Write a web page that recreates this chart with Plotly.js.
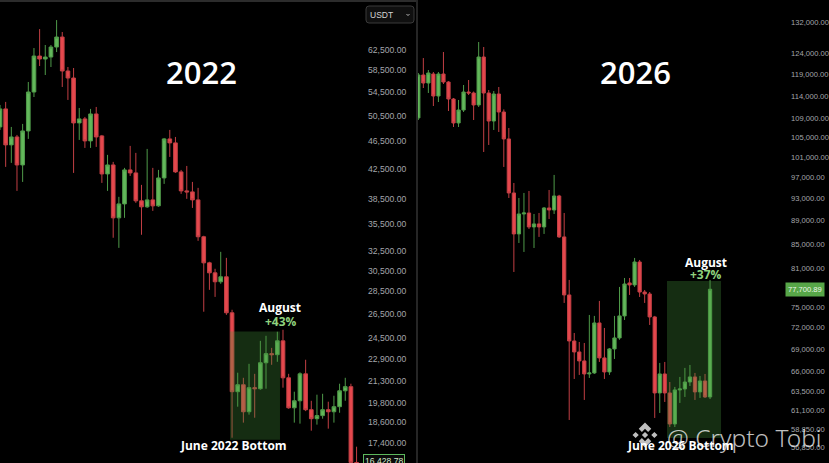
<!DOCTYPE html>
<html><head><meta charset="utf-8">
<script src="https://cdn.plot.ly/plotly-3.0.1.min.js"></script>
<style>html,body{margin:0;padding:0;background:#000;overflow:hidden}#chart{width:829px;height:463px}</style>
</head><body><div id="chart"></div>
<script>
// ---------- DATA: 2022 weekly candles ----------
const dates2022 = ['2021-08-30','2021-09-06','2021-09-13','2021-09-20','2021-09-27','2021-10-04','2021-10-11','2021-10-18','2021-10-25','2021-11-01','2021-11-08','2021-11-15','2021-11-22','2021-11-29','2021-12-06','2021-12-13','2021-12-20','2021-12-27','2022-01-03','2022-01-10','2022-01-17','2022-01-24','2022-01-31','2022-02-07','2022-02-14','2022-02-21','2022-02-28','2022-03-07','2022-03-14','2022-03-21','2022-03-28','2022-04-04','2022-04-11','2022-04-18','2022-04-25','2022-05-02','2022-05-09','2022-05-16','2022-05-23','2022-05-30','2022-06-06','2022-06-13','2022-06-20','2022-06-27','2022-07-04','2022-07-11','2022-07-18','2022-07-25','2022-08-01','2022-08-08','2022-08-15','2022-08-22','2022-08-29','2022-09-05','2022-09-12','2022-09-19','2022-09-26','2022-10-03','2022-10-10','2022-10-17','2022-10-24','2022-10-31','2022-11-07','2022-11-14'];
const open2022  = [48660,51600,45900,47100,43000,48030,54520,61290,60700,61090,63110,65200,58380,57060,49300,49950,46500,50760,47260,41760,43000,36200,37880,42310,41900,38260,37520,38380,37640,41220,46800,46200,42040,39520,39390,38380,34040,31270,30270,29400,29880,26580,20560,21030,19260,20830,20760,22590,23270,23190,24260,21510,19510,19960,21790,19390,18830,19020,19390,19260,19580,20620,20900,16330];
const high2022  = [52270,52790,48660,47410,49140,56330,62910,66910,63530,63530,68900,66270,59140,58950,51760,50270,51600,51930,47410,44430,43430,38760,42590,45750,44720,40300,45300,42590,42310,46950,48190,47100,42310,42860,40690,39910,34150,31380,30670,32410,31780,26840,21870,21510,22510,21790,24260,24660,23710,24990,25150,21790,20560,21900,22810,19960,20360,20420,19900,20290,21100,21510,21100,17190];
const low2022   = [48190,42730,43290,39520,40690,46800,53640,59330,57620,59140,62090,55420,53130,41900,46650,45450,45450,45600,40560,39520,33930,32830,36200,41490,38010,34260,37390,37030,37520,40430,44140,41900,39140,38510,37390,33590,26670,28640,27990,29210,26400,17700,19580,18590,19080,18890,20690,20760,22440,22660,20830,19450,18590,18530,19300,18110,18470,18830,18230,18590,19200,19960,15590,15800];
const close2022 = [51600,45900,47100,43000,48030,54520,61290,60700,61090,63110,65200,58380,57060,49300,49950,46500,50760,47100,41760,43000,36200,37880,42310,41900,38260,37520,38380,37640,41220,46800,46200,42040,39520,39390,38380,34040,31270,30270,29400,29880,26580,20560,21030,19260,20830,20760,22590,23270,23190,24260,21510,19510,19960,21790,19390,18830,19020,19390,19260,19580,20620,20900,16330,16290];
const ticks2022 = [62500,58500,54500,50500,46500,42500,38500,35500,32500,30500,28500,26500,24500,22900,21300,19800,18600,17400];
const lastPrice2022 = 16428.78;

// ---------- DATA: 2026 weekly candles ----------
const dates2026 = ['2025-07-07','2025-07-14','2025-07-21','2025-07-28','2025-08-04','2025-08-11','2025-08-18','2025-08-25','2025-09-01','2025-09-08','2025-09-15','2025-09-22','2025-09-29','2025-10-06','2025-10-13','2025-10-20','2025-10-27','2025-11-03','2025-11-10','2025-11-17','2025-11-24','2025-12-01','2025-12-08','2025-12-15','2025-12-22','2025-12-29','2026-01-05','2026-01-12','2026-01-19','2026-01-26','2026-02-02','2026-02-09','2026-02-16','2026-02-23','2026-03-02','2026-03-09','2026-03-16','2026-03-23','2026-03-30','2026-04-06','2026-04-13','2026-04-20','2026-04-27','2026-05-04','2026-05-11','2026-05-18','2026-05-25','2026-06-01','2026-06-08','2026-06-15','2026-06-22','2026-06-29','2026-07-06','2026-07-13','2026-07-20','2026-07-27','2026-08-03','2026-08-10','2026-08-17'];
const open2026  = [109130,118840,116960,119070,113990,119070,117190,113310,108050,110870,114890,114670,111980,123150,114670,108470,114440,110430,104680,94050,86710,90210,90390,87920,88450,87920,91290,90930,93490,86200,76830,70130,68620,67410,65690,65820,72680,67810,65950,69030,70550,73700,78680,78370,82020,77280,76980,73550,63260,65690,63260,59490,63640,63760,64650,65300,63390,64780,62760];
const high2026  = [119310,122900,120020,119540,119540,124380,117400,113540,113090,116500,117660,115000,126870,125620,115350,115120,116040,111000,106980,95930,93120,94050,94420,90210,90390,91470,94610,97470,93700,90390,79150,71250,69990,69850,73840,73700,75920,71960,69160,73700,78060,79460,79460,82680,82350,77590,77280,73700,67140,67270,64650,64020,65300,66480,66870,65820,65430,65690,79150];
const low2026   = [108690,115810,114670,111750,112640,116730,110650,107190,107190,110430,114210,108690,111530,102010,103440,106560,106140,99030,93120,80410,85170,83670,87570,84330,86200,86710,89320,90210,86030,75620,59960,65040,65560,62390,65170,65690,67270,65040,65560,67670,70300,73110,76830,78060,76520,75620,72390,60200,60800,62140,59130,59130,62020,62760,64140,62390,62640,62640,62500];
const close2026 = [118840,116960,119310,113990,119070,117190,113310,108050,110870,114890,114670,111980,123150,114670,108470,114440,110430,104680,94050,86710,90210,90390,87920,88450,87920,91290,90930,93490,86200,76830,70130,68620,67410,65690,65820,72680,67810,65950,69030,70550,73700,78520,78370,82020,77280,76980,73550,63260,65690,63260,59490,63640,63760,64650,65300,63390,64780,62760,77700.89];
const ticks2026 = [132000,124000,119000,114000,109000,105000,101000,97000,93000,89000,85000,81000,75000,72000,69000,66000,63500,61100,58850,56850];

// ---------- helpers ----------
const W = 829, H = 463;
const px = x => x / W, py = y => 1 - y / H;
function shiftWeeks(d, w) {
  const ms = Date.parse(d + 'T00:00:00Z') + w * 604800000;
  return new Date(ms).toISOString().slice(0, 19).replace('T', ' ');
}
const fmt = v => v.toLocaleString('en-US', {minimumFractionDigits: 2, maximumFractionDigits: 2});
const GREEN = '#63b85b', RED = '#e5484d', GREEN_W = '#4f9a49', RED_W = '#c23f44';

function candles(x, o, h, l, c, xa, ya) {
  return {type: 'candlestick', x: x, open: o, high: h, low: l, close: c, xaxis: xa, yaxis: ya,
    increasing: {line: {color: GREEN_W, width: 1}, fillcolor: GREEN},
    decreasing: {line: {color: RED_W, width: 1}, fillcolor: RED},
    whiskerwidth: 0, hoverinfo: 'skip', showlegend: false};
}

const xBase = {type: 'date', rangeslider: {visible: false}, showgrid: false, zeroline: false,
  showticklabels: false, ticks: '', showline: false, fixedrange: true};
const yBase = {type: 'log', side: 'right', tickmode: 'array', showgrid: false, zeroline: false,
  ticks: '', showline: false, fixedrange: true, ticklabelstandoff: 5};

function logoPath(cx, cy, s) {
  const polys = [
    [[0,-0.25],[0.25,0],[0,0.25],[-0.25,0]],
    [[-0.75,-0.25],[-0.5,0],[-0.75,0.25],[-1,0]],
    [[0.75,-0.25],[1,0],[0.75,0.25],[0.5,0]],
    [[0,-1],[0.5,-0.5],[0.25,-0.25],[0,-0.5],[-0.25,-0.25],[-0.5,-0.5]],
    [[0,1],[0.5,0.5],[0.25,0.25],[0,0.5],[-0.25,0.25],[-0.5,0.5]]
  ];
  return polys.map(p => p.map((q, i) => (i ? 'L' : 'M') + px(cx + q[0]*s).toFixed(5) + ',' + py(cy + q[1]*s).toFixed(5)).join('') + 'Z').join('');
}

function label(x, y, text, font, extra) {
  return Object.assign({xref: 'paper', yref: 'paper', x: px(x), y: py(y), xanchor: 'center', yanchor: 'middle',
    text: text, showarrow: false, font: font}, extra || {});
}

const wm = 'rgba(255,255,255,0.75)';
const titleFont = {family: 'Open Sans', size: 31, color: '#ffffff', weight: 600};
const noteFont = {family: 'Open Sans', size: 12, color: '#ffffff', weight: 700};
const pctFont = {family: 'Open Sans', size: 12, color: '#8fd27e', weight: 700};

const layout = {
  width: W, height: H, margin: {l: 0, r: 0, t: 0, b: 0},
  paper_bgcolor: '#000', plot_bgcolor: '#000', showlegend: false,
  boxgap: 0.35, boxgroupgap: 0,
  xaxis: Object.assign({}, xBase, {domain: [0, px(362)], anchor: 'y',
    range: [shiftWeeks(dates2022[0], 0), shiftWeeks(dates2022[0], 63.96)]}),
  yaxis: Object.assign({}, yBase, {anchor: 'x', domain: [0, 1],
    range: [Math.log10(16302), Math.log10(73550)],
    tickvals: ticks2022, ticktext: ticks2022.map(fmt),
    tickfont: {family: 'Liberation Sans', size: 8.6, color: '#a4a6ab'}}),
  xaxis2: Object.assign({}, xBase, {domain: [px(418), px(785)], anchor: 'y2',
    range: [shiftWeeks(dates2026[0], -0.06), shiftWeeks(dates2026[0], 72.9)]}),
  yaxis2: Object.assign({}, yBase, {anchor: 'x2', domain: [0, 1],
    range: [Math.log10(55056), Math.log10(137890)],
    tickvals: ticks2026, ticktext: ticks2026.map(fmt),
    tickfont: {family: 'Liberation Sans', size: 7.6, color: '#a4a6ab'}}),
  shapes: [
    {type: 'rect', xref: 'x', yref: 'y', layer: 'above', line: {width: 0}, fillcolor: 'rgba(70,150,60,0.3)',
     x0: shiftWeeks(dates2022[0], 40.64), x1: shiftWeeks(dates2022[0], 49.47), y0: 17590, y1: 25000},
    {type: 'rect', xref: 'x2', yref: 'y2', layer: 'above', line: {width: 0}, fillcolor: 'rgba(70,150,60,0.3)',
     x0: shiftWeeks(dates2026[0], 49.44), x1: shiftWeeks(dates2026[0], 60.18), y0: 57860, y1: 79000},
    {type: 'line', xref: 'paper', yref: 'paper', x0: px(417), x1: px(417), y0: 0, y1: 1, line: {color: '#262626', width: 2}},
    {type: 'line', xref: 'paper', yref: 'paper', x0: 0, x1: px(416), y0: py(1), y1: py(1), line: {color: '#2c2c2c', width: 2}},
    {type: 'path', xref: 'paper', yref: 'paper', fillcolor: '#101010', line: {color: '#3a3a3a', width: 1},
     path: `M${px(369)},${py(6)}L${px(411)},${py(6)}Q${px(414)},${py(6)} ${px(414)},${py(9)}L${px(414)},${py(20)}Q${px(414)},${py(23)} ${px(411)},${py(23)}L${px(369)},${py(23)}Q${px(366)},${py(23)} ${px(366)},${py(20)}L${px(366)},${py(9)}Q${px(366)},${py(6)} ${px(369)},${py(6)}Z`},
    {type: 'path', xref: 'paper', yref: 'paper', line: {color: '#b0b0b0', width: 1},
     path: `M${px(406.5)},${py(14)}L${px(408)},${py(15.6)}L${px(409.5)},${py(14)}`},
    {type: 'path', xref: 'paper', yref: 'paper', fillcolor: wm, line: {width: 0}, path: logoPath(645, 435, 12.5)}
  ],
  annotations: [
    label(201, 72, '2022', titleFont),
    label(635.5, 72, '2026', titleFont),
    label(280, 307, 'August', noteFont),
    label(280.5, 321, '+43%', pctFont),
    label(233.5, 445, 'June 2022 Bottom', noteFont),
    label(706, 262, 'August', noteFont),
    label(706, 274, '+37%', pctFont),
    label(680, 445, 'June 2026 Bottom', noteFont),
    label(368, 15, 'USDT', {family: 'Liberation Sans', size: 8.5, color: '#d4d4d4'}, {xanchor: 'left'}),
    {xref: 'paper', yref: 'y', x: px(362.5), xanchor: 'left', yanchor: 'middle', y: Math.log10(lastPrice2022), text: fmt(lastPrice2022), showarrow: false,
     bgcolor: '#0a0a0a', bordercolor: '#5cb85c', borderwidth: 1, borderpad: 1,
     font: {family: 'Liberation Sans', size: 8.6, color: '#d2e9ca'}},
    {xref: 'paper', yref: 'y2', x: px(785), xanchor: 'left', yanchor: 'middle', y: Math.log10(close2026[close2026.length - 1]), text: fmt(close2026[close2026.length - 1]), showarrow: false,
     bgcolor: '#57a648', borderpad: 2,
     font: {family: 'Liberation Sans', size: 7.6, color: '#eef7ea'}},
    label(665, 437, '@ Crypto Tobi', {family: 'Noto Sans', size: 24.5, color: wm, weight: 300}, {xanchor: 'left'})
  ]
};

Plotly.newPlot('chart', [
  candles(dates2022, open2022, high2022, low2022, close2022, 'x', 'y'),
  candles(dates2026, open2026, high2026, low2026, close2026, 'x2', 'y2')
], layout, {staticPlot: true, displayModeBar: false});
</script></body></html>
